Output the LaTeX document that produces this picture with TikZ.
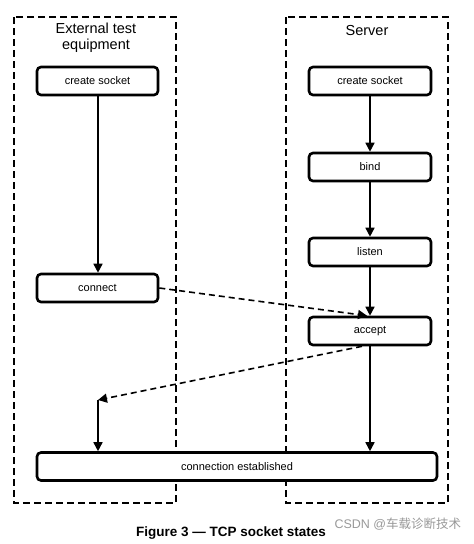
\documentclass[tikz,border=0pt]{standalone}
\usepackage{fontspec}
\setmainfont{Liberation Sans}
\newfontfamily\cjk{Noto Sans CJK SC}
\usetikzlibrary{arrows.meta}
\begin{document}
\begin{tikzpicture}[x=1pt,y=-1pt,
  statebox/.style={draw,fill=white,line width=2.6pt,rounded corners=4pt,minimum height=28pt,inner sep=0pt,font=\fontsize{11}{13}\selectfont},
  lane/.style={draw,line width=1.6pt,dash pattern=on 7pt off 4pt},
  flow/.style={line width=1.6pt,-{Triangle[length=9pt,width=9pt]}},
  msg/.style={flow,dash pattern=on 6pt off 4pt}]
\useasboundingbox (0,0) rectangle (474,544);
\fill[white] (0,0) rectangle (474,544);
\draw[lane] (14,17) rectangle (176,503);
\draw[lane] (286,17) rectangle (448,503);
\node[font=\fontsize{14.5}{16}\selectfont,align=center] (lt) at (96,38) {External test\\equipment};
\node[font=\fontsize{14.5}{16}\selectfont] (rt) at (367,31) {Server};
\node[statebox,minimum width=121pt] (lcs) at (97.5,81) {create socket};
\node[statebox,minimum width=121pt] (con) at (97.5,288) {connect};
\node[statebox,minimum width=122pt] (rcs) at (370,81) {create socket};
\node[statebox,minimum width=122pt] (bind) at (370,167) {bind};
\node[statebox,minimum width=122pt] (lis) at (370,252) {listen};
\node[statebox,minimum width=122pt] (acc) at (370,331) {accept};
\node[statebox,minimum width=400pt] (est) at (237,466.5) {connection established};
\coordinate (j) at (98,400);
\draw[flow] (lcs.south -| 98,0) -- (con.north -| 98,0);
\draw[flow] (rcs) -- (bind);
\draw[flow] (bind) -- (lis);
\draw[flow] (lis) -- (acc);
\draw[flow] (acc.south) -- (est.north -| acc.south);
\draw[msg] (con.east) -- ([xshift=-3pt]acc.north);
\draw[msg] ([xshift=-8pt]acc.south) -- (j);
\draw[flow] (j) -- (est.north -| j);
\node[font=\bfseries\fontsize{13.5}{15}\selectfont] (cap) at (231,533) {Figure 3 — TCP socket states};
\node[font=\fontsize{12.5}{14}\selectfont,text=black!40,anchor=west] (wm) at (331,524) {CSDN @{\cjk 车载诊断技术}};
\end{tikzpicture}
\end{document}
